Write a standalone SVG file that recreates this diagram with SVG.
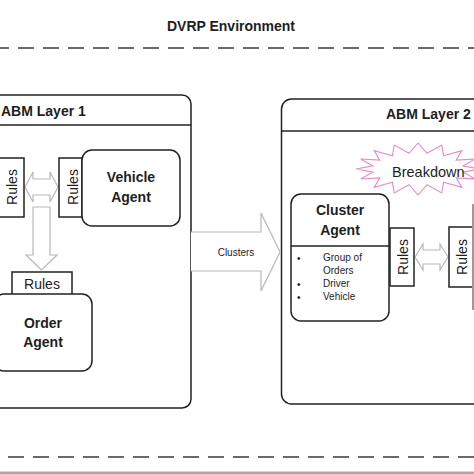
<svg xmlns="http://www.w3.org/2000/svg" width="474" height="474" viewBox="0 0 474 474">
<style>
.t{font-family:"Liberation Sans",Arial,sans-serif;fill:#1e1e1e}
.b{font-weight:bold;font-size:14px;text-anchor:middle}
.r{font-size:14px;text-anchor:middle}
.box{fill:#fff;stroke:#222;stroke-width:1.5}
.dash{stroke:#3a3a3a;stroke-width:1.6;stroke-dasharray:16 9;fill:none}
.arr{fill:#fff;stroke:#b8b8b8;stroke-width:1.2}
</style>
<rect width="474" height="474" fill="#fff"/>
<text class="t" x="231" y="31" font-size="14" font-weight="bold" text-anchor="middle">DVRP Environment</text>
<line class="dash" x1="-7" y1="48" x2="474" y2="48"/>
<line class="dash" x1="8" y1="457" x2="474" y2="457"/>
<rect x="0" y="471.5" width="474" height="2.5" fill="#a8a8a8"/>

<g id="layer1">
<rect class="box" x="-20" y="95" width="211" height="313" rx="9"/>
<line x1="-20" y1="125" x2="191" y2="125" stroke="#222" stroke-width="1.5"/>
<text class="t" x="1" y="116" font-size="14" font-weight="bold">ABM Layer 1</text>
</g>

<g id="layer2">
<rect class="box" x="281.5" y="99" width="220" height="305" rx="10"/>
<line x1="281.5" y1="131" x2="474" y2="131" stroke="#222" stroke-width="1.5"/>
<text class="t" x="386" y="119" font-size="14" font-weight="bold">ABM Layer 2</text>
</g>

<g id="connectors">
<path class="arr" d="M25,187 L33,172 L33,179 L50,179 L50,172 L58,187 L50,202 L50,195 L33,195 L33,202 Z"/>
<path class="arr" d="M33,207 L50,207 L50,255 L57,255 L41.5,270 L26,255 L33,255 Z"/>
<path class="arr" d="M191,232 L261,232 L261,213 L280,252 L261,291 L261,271 L191,271"/>
<text class="t" x="236" y="256" font-size="10" text-anchor="middle">Clusters</text>
<path class="arr" d="M415,257 L423,244 L423,250 L440,250 L440,244 L448,257 L440,270 L440,264 L423,264 L423,270 Z"/>
</g>

<g id="rules-left">
<rect class="box" x="-5" y="158" width="29" height="59"/>
<text class="t r" transform="translate(17,187) rotate(-90)">Rules</text>
</g>

<g id="rules-vehicle">
<rect class="box" x="59" y="158" width="23" height="59"/>
<text class="t r" transform="translate(78,187) rotate(-90)">Rules</text>
</g>

<g id="vehicle-agent">
<rect class="box" x="82" y="150" width="98" height="76" rx="10"/>
<text class="t b" x="131" y="182">Vehicle</text>
<text class="t b" x="131" y="202">Agent</text>
</g>

<g id="rules-order">
<rect class="box" x="12" y="272" width="60" height="23"/>
<text class="t r" x="42" y="289">Rules</text>
</g>

<g id="order-agent">
<rect class="box" x="-6" y="294" width="98" height="77" rx="10"/>
<text class="t b" x="43" y="328">Order</text>
<text class="t b" x="43" y="347">Agent</text>
</g>

<g id="breakdown">
<polygon fill="#fff" stroke="#e48ccc" stroke-width="1.1" points="480,169 463.1,172.1 475.3,179 456.2,177.9 461.8,187.4 443.6,182.3 441.7,193 427,184.7 418,195 409,184.7 394.3,193 392.4,182.3 374.2,187.4 379.8,177.9 360.7,179 372.9,172.1 356,169 372.9,165.9 360.7,159 379.8,160.1 374.2,150.6 392.4,155.7 394.3,145 409,153.3 418,143 427,153.3 441.7,145 443.6,155.7 461.8,150.6 456.2,160.1 475.3,159 463.1,165.9"/>
<text class="t" x="392" y="177" font-size="14.5">Breakdown</text>
</g>

<g id="cluster-agent">
<rect class="box" x="291" y="194" width="98" height="127" rx="10"/>
<line x1="291" y1="246" x2="389" y2="246" stroke="#222" stroke-width="1.5"/>
<text class="t b" x="340" y="215">Cluster</text>
<text class="t b" x="340" y="235">Agent</text>
<g class="t" font-size="10">
<text x="297" y="262">•</text><text x="323" y="261">Group of</text>
<text x="323" y="274">Orders</text>
<text x="297" y="288">•</text><text x="323" y="287">Driver</text>
<text x="297" y="301">•</text><text x="323" y="300">Vehicle</text>
</g>
</g>

<g id="rules-cluster">
<rect class="box" x="390" y="228" width="24" height="58"/>
<text class="t r" transform="translate(408,257) rotate(-90)">Rules</text>
</g>

<g id="rules-right">
<rect class="box" x="449" y="227" width="24" height="60"/>
<text class="t r" transform="translate(467,257) rotate(-90)">Rules</text>
</g>

<g id="right-agent">
<line x1="473" y1="204" x2="473" y2="310" stroke="#9a9a9a" stroke-width="2"/>
</g>
</svg>
